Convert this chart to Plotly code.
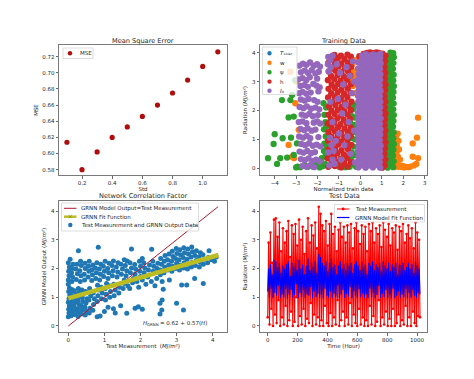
import plotly.graph_objects as go

FONT = "DejaVu Sans"

# ---------------- Top-left: Mean Square Error ----------------
std_vals = [0.1, 0.2, 0.3, 0.4, 0.5, 0.6, 0.7, 0.8, 0.9, 1.0, 1.1]
mse_vals = [0.614, 0.580, 0.602, 0.620, 0.633, 0.646, 0.660, 0.675, 0.691, 0.708, 0.726]

# ---------------- Top-right: Training Data (x, y) ----------------
tsolar_pts = [(0.30, 1.50), (0.50, 2.00), (0.40, 0.80), (0.20, 2.80), (0.60, 3.20), (0.10, 0.40)]

w_pts = [(-3.35, 0.81), (-3.19, 0.40), (-3.27, 3.34), (-3.04, 2.25), (-2.88, 1.33), (-2.99, 3.00), (-3.10, 0.35),
         (-0.45, 3.85), (-0.38, 3.60), (-0.30, 3.35), (-0.42, 3.10), (-0.35, 2.85), (-0.28, 2.60), (-0.20, 3.75), (-0.25, 3.15),
         (1.62, 0.05), (1.70, 0.15), (1.78, 0.05), (1.65, 0.30), (1.75, 0.40), (1.68, 0.55), (1.80, 0.65), (1.70, 0.80),
         (1.78, 0.95), (1.66, 1.10), (1.74, 1.20), (1.85, 0.30), (1.82, 0.10), (1.90, 0.05), (1.98, 0.08), (2.05, 0.03),
         (2.15, 0.05), (1.60, 0.70), (1.58, 1.00),
         (2.69, 1.75), (2.64, 1.06), (2.44, 0.86), (2.44, 0.40), (2.69, 0.35), (2.61, 0.15), (2.33, 0.06), (2.25, 0.04), (2.50, 0.10)]

psi_pts = [(-4.31, 0.35), (-3.89, 0.15), (-4.00, 1.18), (-4.05, 0.84), (-3.74, 0.35), (-3.66, 2.36), (-3.63, 1.04),
           (-3.42, 0.37), (-3.35, 1.76), (-3.27, 2.36), (-3.24, 1.06), (-3.11, 1.79), (-3.19, 2.54), (-3.04, 3.05),
           (-3.11, 0.46), (-2.96, 0.86), (-2.93, 0.06),
           (-3.00, 0.03), (-2.80, 0.04), (-2.60, 0.10), (-2.45, 0.05), (-2.30, 0.12), (-2.20, 0.05), (-2.12, 0.20),
           (-2.05, 0.10), (-1.95, 0.25), (-1.90, 0.03), (-1.80, 0.35), (-1.75, 0.08), (-1.70, 0.60), (-1.65, 0.15),
           (-1.62, 0.45), (-1.68, 0.85), (-1.62, 1.10), (-1.70, 1.35), (-1.63, 1.60), (-1.68, 1.85), (-1.60, 2.10),
           (-1.72, 2.25), (-1.58, 0.75), (-1.60, 1.45),
           (-1.00, 0.05), (-0.85, 0.10), (-0.70, 0.04),
           (-0.50, 0.05), (-0.45, 0.30), (-0.40, 0.55), (-0.48, 0.80), (-0.42, 1.05), (-0.38, 1.30), (-0.46, 1.55),
           (-0.40, 1.80), (-0.35, 2.05), (-0.30, 0.15), (-0.28, 0.45), (-0.32, 0.75), (-0.25, 1.00), (-0.30, 1.25),
           (-0.27, 1.50), (-0.24, 1.75), (-0.30, 2.20), (-0.20, 0.05),
           (1.27, 0.02), (1.29, 0.22), (1.26, 0.42), (1.28, 0.62), (1.30, 0.82), (1.27, 1.02), (1.29, 1.22), (1.26, 1.42),
           (1.28, 1.62), (1.30, 1.82), (1.27, 2.02), (1.29, 2.22), (1.26, 2.42), (1.28, 2.62), (1.30, 2.82), (1.27, 3.02),
           (1.29, 3.22), (1.26, 3.42), (1.28, 3.62), (1.30, 3.85),
           (1.40, 0.10), (1.42, 0.30), (1.39, 0.50), (1.41, 0.70), (1.43, 0.90), (1.40, 1.10), (1.42, 1.30), (1.39, 1.50),
           (1.41, 1.70), (1.43, 1.90), (1.40, 2.10), (1.42, 2.30), (1.39, 2.50), (1.41, 2.70), (1.43, 2.90), (1.40, 3.10),
           (1.42, 3.30), (1.39, 3.50), (1.41, 3.70), (1.43, 3.90), (1.40, 4.00),
           (1.53, 0.04), (1.55, 0.24), (1.52, 0.44), (1.54, 0.64), (1.56, 0.84), (1.53, 1.04), (1.55, 1.24), (1.52, 1.44),
           (1.54, 1.64), (1.56, 1.84), (1.53, 2.04), (1.55, 2.24), (1.52, 2.44), (1.54, 2.64), (1.56, 2.84), (1.53, 3.04),
           (1.55, 3.24), (1.52, 3.44), (1.54, 3.64), (1.56, 3.84), (1.53, 3.98)]

h_pts = [(-1.50, 0.05), (-1.53, 0.35), (-1.48, 0.65), (-1.51, 0.95), (-1.49, 1.25), (-1.52, 1.55), (-1.50, 1.85),
         (-1.47, 2.15), (-1.51, 2.45), (-1.49, 2.75), (-1.52, 3.05), (-1.48, 3.35), (-1.50, 3.65),
         (-1.35, 0.20), (-1.37, 0.50), (-1.33, 0.80), (-1.36, 1.10), (-1.34, 1.40), (-1.38, 1.70), (-1.35, 2.00),
         (-1.32, 2.30), (-1.36, 2.60), (-1.34, 2.90), (-1.37, 3.20), (-1.33, 3.50), (-1.35, 3.80),
         (-1.20, 0.08), (-1.22, 0.38), (-1.18, 0.68), (-1.21, 0.98), (-1.19, 1.28), (-1.23, 1.58), (-1.20, 1.88),
         (-1.17, 2.18), (-1.21, 2.48), (-1.19, 2.78), (-1.22, 3.08), (-1.18, 3.38), (-1.20, 3.68), (-1.21, 3.92),
         (-1.05, 0.22), (-1.07, 0.52), (-1.03, 0.82), (-1.06, 1.12), (-1.04, 1.42), (-1.08, 1.72), (-1.05, 2.02),
         (-1.02, 2.32), (-1.06, 2.62), (-1.04, 2.92), (-1.07, 3.22), (-1.03, 3.52), (-1.05, 3.82),
         (-0.90, 0.03), (-0.92, 0.33), (-0.88, 0.63), (-0.91, 0.93), (-0.89, 1.23), (-0.93, 1.53), (-0.90, 1.83),
         (-0.87, 2.13), (-0.91, 2.43), (-0.89, 2.73), (-0.92, 3.03), (-0.88, 3.33), (-0.90, 3.63), (-0.91, 3.90),
         (-0.75, 0.18), (-0.77, 0.48), (-0.73, 0.78), (-0.76, 1.08), (-0.74, 1.38), (-0.78, 1.68), (-0.75, 1.98),
         (-0.72, 2.28), (-0.76, 2.58), (-0.74, 2.88), (-0.77, 3.18), (-0.73, 3.48), (-0.75, 3.78),
         (-0.60, 0.06), (-0.62, 0.36), (-0.58, 0.66), (-0.61, 0.96), (-0.59, 1.26), (-0.63, 1.56), (-0.60, 1.86),
         (-0.57, 2.16), (-0.61, 2.46), (-0.59, 2.76), (-0.62, 3.06), (-0.58, 3.36), (-0.60, 3.66), (-0.61, 3.93),
         (-0.45, 0.21), (-0.47, 0.51), (-0.43, 0.81), (-0.46, 1.11), (-0.44, 1.41), (-0.48, 1.71), (-0.45, 2.01),
         (-0.42, 2.31), (-0.46, 2.61), (-0.44, 2.91), (-0.47, 3.21), (-0.43, 3.51), (-0.45, 3.86),
         (1.02, 0.02), (1.04, 0.22), (1.01, 0.42), (1.03, 0.62), (1.05, 0.82), (1.02, 1.02), (1.04, 1.22), (1.01, 1.42),
         (1.03, 1.62), (1.05, 1.82), (1.02, 2.02), (1.04, 2.22), (1.01, 2.42), (1.03, 2.62), (1.05, 2.82), (1.02, 3.02),
         (1.04, 3.22), (1.01, 3.42), (1.03, 3.62), (1.05, 3.82), (1.03, 3.97),
         (1.14, 0.10), (1.16, 0.30), (1.13, 0.50), (1.15, 0.70), (1.17, 0.90), (1.14, 1.10), (1.16, 1.30), (1.13, 1.50),
         (1.15, 1.70), (1.17, 1.90), (1.14, 2.10), (1.16, 2.30), (1.13, 2.50), (1.15, 2.70), (1.17, 2.90), (1.14, 3.10),
         (1.16, 3.30), (1.13, 3.50), (1.15, 3.70), (1.17, 3.90),
         (-0.05, 3.88), (0.15, 3.96), (0.30, 3.99), (0.45, 4.01), (0.60, 3.98), (0.75, 4.01), (0.86, 3.99)]

i0_pts = [(-2.85, 3.55), (-2.68, 3.62), (-2.52, 3.58), (-2.35, 3.66), (-2.18, 3.55), (-2.02, 3.60), (-1.88, 3.52),
          (-2.78, 3.32), (-2.60, 3.38), (-2.44, 3.30), (-2.27, 3.40), (-2.10, 3.28), (-1.94, 3.34),
          (-2.88, 3.08), (-2.70, 3.12), (-2.53, 3.05), (-2.36, 3.15), (-2.02, 3.10),
          (-2.80, 2.85), (-2.62, 2.88), (-2.45, 2.82), (-2.20, 2.92), (-2.05, 2.86), (-1.90, 2.80),
          (-2.86, 2.60), (-2.70, 2.64), (-2.52, 2.58), (-2.32, 2.62), (-1.96, 2.66),
          (-2.78, 2.38), (-2.60, 2.34), (-2.42, 2.40), (-2.16, 2.36), (-2.00, 2.30),
          (-2.84, 2.12), (-2.66, 2.08), (-2.50, 2.14), (-2.30, 2.06), (-2.10, 2.10), (-1.92, 2.04),
          (-2.74, 1.86), (-2.56, 1.82), (-2.38, 1.88), (-2.22, 1.80), (-1.98, 1.84),
          (-2.88, 1.60), (-2.70, 1.62), (-2.52, 1.56), (-2.18, 1.58), (-2.02, 1.62), (-1.88, 1.55),
          (-2.80, 1.36), (-2.62, 1.32), (-2.46, 1.38), (-2.28, 1.30), (-2.10, 1.34),
          (-2.86, 1.10), (-2.68, 1.06), (-2.50, 1.12), (-2.34, 1.04), (-1.96, 1.08),
          (-2.76, 0.84), (-2.58, 0.80), (-2.40, 0.86), (-2.22, 0.78), (-2.04, 0.82), (-1.88, 0.76),
          (-2.84, 0.58), (-2.66, 0.54), (-2.48, 0.60), (-2.30, 0.52), (-2.12, 0.56),
          (-2.78, 0.32), (-2.60, 0.28), (-2.42, 0.34), (-2.24, 0.26), (-2.06, 0.30), (-1.90, 0.24),
          (-2.70, 0.08), (-2.52, 0.05), (-2.35, 0.10), (-2.16, 0.04),
          (-1.50, 3.85), (-1.40, 3.75), (-1.52, 3.60), (-1.38, 3.50), (-1.48, 3.35), (-1.30, 3.90), (-1.45, 0.10),
          (-1.30, 0.30), (-1.50, 0.55), (-1.35, 0.80), (-1.20, 0.15), (-1.42, 1.05), (-1.25, 0.60), (-1.15, 0.95),
          (-1.40, 2.30), (-1.30, 1.60),
          (-1.10, 3.60), (-0.95, 3.30), (-0.80, 2.90), (-0.65, 3.50), (-0.50, 3.20), (-0.35, 3.70), (-1.05, 2.40),
          (-0.85, 1.90), (-0.70, 2.20), (-0.55, 1.60), (-0.40, 2.60), (-1.00, 1.20), (-0.75, 0.80), (-0.60, 1.10),
          (-0.45, 0.50), (-0.90, 0.30), (-0.30, 1.30), (-0.25, 0.20), (-0.30, 3.00),
          (-0.10, 0.03), (-0.12, 0.22), (-0.09, 0.41), (-0.11, 0.60), (-0.08, 0.79), (-0.12, 0.98), (-0.10, 1.17),
          (-0.09, 1.36), (-0.11, 1.55), (-0.10, 1.74), (-0.12, 1.93), (-0.08, 2.12), (-0.10, 2.31), (-0.11, 2.50),
          (-0.09, 2.69), (-0.12, 2.88), (-0.10, 3.07), (-0.08, 3.26), (-0.11, 3.45), (-0.10, 3.66),
          (0.07, 0.10), (0.05, 0.30), (0.08, 0.50), (0.06, 0.68), (0.09, 0.88), (0.05, 1.07), (0.07, 1.26),
          (0.08, 1.45), (0.06, 1.64), (0.09, 1.83), (0.05, 2.02), (0.07, 2.21), (0.08, 2.40), (0.06, 2.60),
          (0.09, 2.78), (0.05, 2.97), (0.07, 3.16), (0.08, 3.35), (0.06, 3.55), (0.07, 3.75), (0.08, 3.90),
          (0.24, 0.02), (0.22, 0.20), (0.25, 0.40), (0.23, 0.59), (0.26, 0.78), (0.22, 0.97), (0.24, 1.16),
          (0.25, 1.35), (0.23, 1.54), (0.26, 1.73), (0.22, 1.92), (0.24, 2.11), (0.25, 2.30), (0.23, 2.49),
          (0.26, 2.68), (0.22, 2.87), (0.24, 3.06), (0.25, 3.25), (0.23, 3.44), (0.26, 3.63), (0.24, 3.82), (0.25, 3.95),
          (0.41, 0.10), (0.39, 0.29), (0.42, 0.48), (0.40, 0.67), (0.43, 0.86), (0.39, 1.05), (0.41, 1.24),
          (0.42, 1.43), (0.40, 1.62), (0.43, 1.81), (0.39, 2.00), (0.41, 2.19), (0.42, 2.38), (0.40, 2.57),
          (0.43, 2.76), (0.39, 2.95), (0.41, 3.14), (0.42, 3.33), (0.40, 3.52), (0.43, 3.71), (0.41, 3.90),
          (0.58, 0.03), (0.56, 0.21), (0.59, 0.41), (0.57, 0.60), (0.60, 0.79), (0.56, 0.98), (0.58, 1.17),
          (0.59, 1.36), (0.57, 1.55), (0.60, 1.74), (0.56, 1.93), (0.58, 2.12), (0.59, 2.31), (0.57, 2.50),
          (0.60, 2.69), (0.56, 2.88), (0.58, 3.07), (0.59, 3.26), (0.57, 3.45), (0.60, 3.64), (0.58, 3.83), (0.59, 3.94),
          (0.75, 0.11), (0.73, 0.30), (0.76, 0.49), (0.74, 0.68), (0.77, 0.87), (0.73, 1.06), (0.75, 1.25),
          (0.76, 1.44), (0.74, 1.63), (0.77, 1.82), (0.73, 2.01), (0.75, 2.20), (0.76, 2.39), (0.74, 2.58),
          (0.77, 2.77), (0.73, 2.96), (0.75, 3.15), (0.76, 3.34), (0.74, 3.53), (0.77, 3.72), (0.75, 3.91),
          (0.92, 0.02), (0.90, 0.21), (0.93, 0.40), (0.91, 0.59), (0.94, 0.78), (0.90, 0.97), (0.92, 1.16),
          (0.93, 1.35), (0.91, 1.54), (0.94, 1.73), (0.90, 1.92), (0.92, 2.11), (0.93, 2.30), (0.91, 2.49),
          (0.94, 2.68), (0.90, 2.87), (0.92, 3.06), (0.93, 3.25), (0.91, 3.44), (0.94, 3.63), (0.92, 3.82), (0.93, 3.96)]

# ---------------- Bottom-left: Network Correlation Factor ----------------
corr_pts = [(0.00, 0.32), (0.02, 0.45), (0.01, 0.58), (0.03, 0.70), (0.00, 0.83), (0.02, 0.95), (0.04, 1.08),
            (0.01, 1.20), (0.03, 1.32), (0.00, 1.45), (0.08, 0.36), (0.10, 0.50), (0.07, 0.62), (0.11, 0.77),
            (0.09, 0.90), (0.12, 1.02), (0.08, 1.15), (0.10, 1.27), (0.17, 0.40), (0.19, 0.55), (0.16, 0.68),
            (0.20, 0.82), (0.18, 0.96), (0.21, 1.10), (0.17, 1.23), (0.27, 0.33), (0.28, 0.47), (0.26, 0.60),
            (0.30, 0.74), (0.27, 0.88), (0.29, 1.00), (0.31, 1.18), (0.28, 1.30), (0.37, 0.42), (0.38, 0.56),
            (0.36, 0.70), (0.40, 0.85), (0.39, 0.98), (0.41, 1.12), (0.38, 1.25), (0.47, 0.38), (0.50, 0.52),
            (0.46, 0.66), (0.49, 0.80), (0.52, 0.95), (0.48, 1.20), (0.58, 0.45), (0.60, 0.62), (0.57, 0.90),
            (0.62, 1.05), (0.59, 1.30), (0.68, 0.55), (0.70, 0.75), (0.72, 0.95), (0.69, 1.15),
            (0.00, 1.60), (0.02, 1.75), (0.01, 1.90), (0.03, 2.05), (0.00, 2.20), (0.05, 2.32), (0.10, 1.55),
            (0.12, 1.70), (0.09, 1.85), (0.11, 2.00), (0.13, 2.15),
            (0.22, 1.62), (0.25, 1.82), (0.21, 1.98), (0.24, 2.15), (0.33, 1.55), (0.35, 1.75), (0.32, 1.92),
            (0.36, 2.10), (0.34, 2.25), (0.45, 1.60), (0.44, 1.80), (0.47, 2.00), (0.46, 2.18), (0.55, 1.70),
            (0.57, 1.90), (0.56, 2.08), (0.58, 2.25), (0.65, 1.58), (0.67, 1.78), (0.66, 1.96), (0.68, 2.12),
            (0.76, 1.65), (0.78, 1.85), (0.75, 2.02), (0.79, 2.20), (0.87, 1.60), (0.89, 1.80), (0.86, 1.98),
            (0.90, 2.15), (0.98, 1.72), (1.00, 1.90), (0.97, 2.08), (1.02, 2.25), (1.10, 1.65), (1.12, 1.85),
            (1.09, 2.00), (1.13, 2.18), (1.22, 1.75), (1.24, 1.92), (1.21, 2.10), (1.25, 2.26), (1.35, 1.70),
            (1.37, 1.88), (1.33, 2.05), (1.38, 2.20), (1.47, 1.80), (1.50, 1.98), (1.46, 2.15), (1.60, 1.75),
            (1.62, 1.92), (1.58, 2.10), (1.63, 2.26), (1.72, 1.85), (1.75, 2.02), (1.71, 2.20), (1.85, 1.80),
            (1.87, 1.97), (1.84, 2.14), (1.98, 1.90), (2.00, 2.08), (1.97, 2.25), (2.10, 1.85), (2.12, 2.02),
            (2.09, 2.20), (2.22, 1.95), (2.25, 2.12), (2.35, 1.90), (2.37, 2.08), (2.34, 2.25), (2.46, 2.00),
            (2.48, 2.18),
            (0.80, 0.85), (0.82, 1.05), (0.85, 1.25), (0.81, 1.42), (0.92, 0.95), (0.94, 1.15), (0.91, 1.35),
            (1.03, 0.90), (1.05, 1.10), (1.02, 1.30), (1.06, 1.48), (1.15, 1.00), (1.17, 1.20), (1.14, 1.40),
            (1.27, 1.05), (1.30, 1.25), (1.26, 1.45), (1.40, 1.15), (1.42, 1.35), (1.52, 1.30), (1.55, 1.48),
            (1.65, 1.40), (1.78, 1.50), (1.90, 1.55), (2.05, 1.60),
            (1.70, 1.30), (1.95, 1.35), (2.15, 1.45), (2.30, 1.55), (2.45, 1.65), (2.55, 1.78), (2.20, 1.70),
            (2.40, 1.40), (2.60, 1.55), (1.55, 1.60), (1.80, 1.65), (2.00, 1.72),
            (2.55, 1.95), (2.58, 2.15), (2.56, 2.35), (2.65, 1.85), (2.67, 2.05), (2.66, 2.25), (2.68, 2.45),
            (2.76, 1.95), (2.78, 2.12), (2.75, 2.30), (2.79, 2.50), (2.87, 1.90), (2.89, 2.08), (2.86, 2.25),
            (2.90, 2.42), (2.88, 2.60), (2.98, 2.00), (3.00, 2.18), (2.97, 2.35), (3.01, 2.52), (2.99, 2.70),
            (3.08, 1.95), (3.10, 2.12), (3.07, 2.30), (3.11, 2.48), (3.09, 2.65), (3.19, 2.02), (3.21, 2.20),
            (3.18, 2.38), (3.22, 2.55), (3.20, 2.72), (3.30, 1.98), (3.32, 2.15), (3.29, 2.32), (3.33, 2.50),
            (3.31, 2.68), (3.41, 2.05), (3.43, 2.22), (3.40, 2.40), (3.44, 2.58), (3.42, 2.75), (3.52, 2.10),
            (3.54, 2.28), (3.51, 2.45), (3.55, 2.62), (3.63, 2.05), (3.65, 2.22), (3.62, 2.40), (3.66, 2.55),
            (3.74, 2.15), (3.76, 2.32), (3.73, 2.48), (3.86, 2.20), (3.88, 2.38), (3.97, 2.30), (4.05, 2.25),
            (4.10, 2.40),
            (0.28, 2.62), (0.83, 2.74), (1.75, 2.68), (2.31, 2.67), (3.90, 2.62), (1.55, 2.30), (2.05, 2.35),
            (0.80, 0.32), (0.88, 0.35), (1.00, 0.50), (1.30, 0.45), (1.62, 0.44), (1.85, 0.62), (1.94, 0.67),
            (2.05, 0.58), (2.54, 0.42), (2.59, 0.56), (2.54, 0.79), (2.60, 0.90), (3.00, 0.79), (3.19, 0.56),
            (2.63, 1.28), (3.14, 1.43), (3.28, 1.43), (3.74, 1.48), (3.50, 1.65), (2.80, 1.60), (1.25, 0.60),
            (1.45, 0.70), (1.10, 0.65)]

diag_x = [0.0, 4.15]
diag_y = [0.0, 4.15]
fit_x = [0.0, 4.16]
fit_y = [0.96, 2.47]

# ---------------- Bottom-right: Test Data (6-hour samples) ----------------
hour_step = 6
test_meas = [0.3, 2.9, 0.05, 3.25, 0.6, 2.2, 0.0, 3.7, 0.4, 3.75,
             0.1, 3.1, 0.9, 3.6, 0.0, 2.6, 0.3, 3.4, 0.05, 2.9,
             0.7, 3.3, 0.0, 3.65, 0.2, 2.4, 0.5, 3.5, 0.0, 3.2,
             0.15, 3.55, 1.0, 2.8, 0.0, 3.7, 0.35, 3.0, 0.05, 3.45,
             0.6, 2.5, 0.0, 3.3, 0.25, 3.75, 0.1, 2.9, 0.8, 3.5,
             0.0, 3.15, 0.4, 3.6, 0.05, 2.7, 0.3, 4.15, 0.0, 3.9,
             0.2, 3.5, 0.0, 3.3, 0.7, 3.65, 0.1, 2.8, 0.0, 3.55,
             0.45, 3.9, 0.0, 3.2, 0.3, 3.45, 0.05, 2.6, 0.9, 3.35,
             0.0, 3.6, 0.2, 3.1, 0.5, 3.45, 0.0, 2.9, 0.3, 3.5,
             0.05, 3.25, 0.8, 3.55, 0.0, 2.7, 0.4, 3.4, 0.1, 3.6,
             0.0, 3.3, 0.6, 2.85, 0.05, 3.5, 0.3, 3.2, 0.0, 3.45,
             0.2, 2.6, 0.0, 3.55, 0.7, 3.3, 0.05, 3.6, 0.35, 2.9,
             0.0, 3.4, 0.15, 3.2, 0.9, 3.5, 0.0, 2.75, 0.3, 3.6,
             0.05, 3.35, 0.5, 3.1, 0.0, 3.55, 0.25, 2.8, 0.0, 3.4,
             0.6, 3.25, 0.0, 3.5, 0.1, 2.65, 0.4, 3.45, 0.0, 3.3,
             0.2, 3.55, 0.05, 2.9, 0.7, 3.2, 0.0, 3.5, 0.3, 3.05,
             0.0, 3.4, 0.5, 2.7, 0.1, 3.6, 0.0, 3.25, 0.35, 3.0, 0.3]
grnn_out = [1.2, 2.0, 1.0, 2.15, 1.3, 1.8, 0.98, 2.3, 1.15, 2.25,
            1.05, 2.05, 1.4, 2.2, 0.97, 1.85, 1.1, 2.1, 1.0, 2.0,
            1.3, 2.15, 0.96, 2.25, 1.1, 1.75, 1.25, 2.2, 0.98, 2.05,
            1.08, 2.2, 1.45, 1.95, 0.97, 2.3, 1.15, 2.0, 1.02, 2.15,
            1.25, 1.8, 0.98, 2.1, 1.1, 2.35, 1.05, 1.95, 1.35, 2.2,
            0.97, 2.05, 1.2, 2.25, 1.0, 1.85, 1.12, 2.5, 0.98, 2.4,
            1.1, 2.2, 0.96, 2.1, 1.3, 2.25, 1.05, 1.9, 0.98, 2.2,
            1.2, 2.35, 0.97, 2.05, 1.12, 2.15, 1.0, 1.8, 1.4, 2.1,
            0.98, 2.25, 1.1, 2.0, 1.25, 2.15, 0.97, 1.95, 1.12, 2.2,
            1.02, 2.1, 1.35, 2.2, 0.97, 1.85, 1.2, 2.15, 1.05, 2.25,
            0.98, 2.1, 1.28, 1.95, 1.0, 2.2, 1.12, 2.05, 0.97, 2.15,
            1.1, 1.8, 0.98, 2.2, 1.3, 2.1, 1.0, 2.25, 1.15, 1.95,
            0.97, 2.15, 1.08, 2.05, 1.4, 2.2, 0.98, 1.9, 1.12, 2.25,
            1.0, 2.1, 1.25, 2.0, 0.97, 2.2, 1.1, 1.9, 0.98, 2.15,
            1.3, 2.05, 0.97, 2.2, 1.05, 1.8, 1.2, 2.15, 0.98, 2.1,
            1.1, 2.2, 1.0, 1.95, 1.3, 2.05, 0.97, 2.2, 1.15, 2.0,
            0.98, 2.15, 1.25, 1.85, 1.05, 2.25, 0.97, 2.1, 1.15, 2.0, 1.1]
hours = [i * hour_step for i in range(len(test_meas))]

# ---------------- colours ----------------
C_MSE = "#b00d0d"
C_TS, C_W, C_PSI, C_H, C_I0 = "#1f77b4", "#ff7f0e", "#2ca02c", "#d62728", "#9467bd"
C_DIAG, C_FIT, C_SC = "#b5162b", "#bcbd22", "#1f77b4"
C_RED, C_BLUE = "#ff0000", "#0000ff"

W, H = 474, 379
def P(xp):
    return xp / W
def Q(yp):
    return 1 - yp / H

fig = go.Figure()

# top-left
fig.add_trace(go.Scatter(x=std_vals, y=mse_vals, mode="markers", name="MSE",
                         marker=dict(color=C_MSE, size=5.2), xaxis="x", yaxis="y", showlegend=False))

# top-right
for pts, col, nm in [(tsolar_pts, C_TS, "T_solar"), (w_pts, C_W, "w"), (psi_pts, C_PSI, "ψ"),
                     (h_pts, C_H, "h"), (i0_pts, C_I0, "I0")]:
    fig.add_trace(go.Scatter(x=[p[0] for p in pts], y=[p[1] for p in pts], mode="markers", name=nm,
                             marker=dict(color=col, size=6.3, line=dict(width=0)),
                             xaxis="x2", yaxis="y2", showlegend=False))

# bottom-left
fig.add_trace(go.Scatter(x=[p[0] for p in corr_pts], y=[p[1] for p in corr_pts], mode="markers",
                         name="Test Measurement and GRNN Output Data",
                         marker=dict(color=C_SC, size=5, line=dict(width=0)),
                         xaxis="x3", yaxis="y3", showlegend=False))
fig.add_trace(go.Scatter(x=diag_x, y=diag_y, mode="lines", name="GRNN Model Output=Test Measurement",
                         line=dict(color=C_DIAG, width=1), xaxis="x3", yaxis="y3", showlegend=False))
fig.add_trace(go.Scatter(x=fit_x, y=fit_y, mode="lines", name="GRNN Fit Function",
                         line=dict(color=C_FIT, width=4.5), xaxis="x3", yaxis="y3", showlegend=False))

# bottom-right
fig.add_trace(go.Scatter(x=hours, y=test_meas, mode="lines+markers", name="Test Measurement",
                         line=dict(color=C_RED, width=1.1), marker=dict(color=C_RED, size=2.6),
                         xaxis="x4", yaxis="y4", showlegend=False))
fig.add_trace(go.Scatter(x=hours, y=grnn_out, mode="lines", name="GRNN Model Fit Function",
                         line=dict(color=C_BLUE, width=1.1), xaxis="x4", yaxis="y4", showlegend=False))

TF = dict(family=FONT, size=5.5, color="#262626")
def ax(domain, rng, dtick, fmt, title, anchor, standoff=1):
    return dict(domain=domain, range=rng, dtick=dtick, tickformat=fmt, anchor=anchor,
                showline=True, mirror=True, linecolor="#7a7a7a", linewidth=1,
                ticks="outside", ticklen=2.5, tickwidth=0.8, tickcolor="#444",
                tickfont=TF, showgrid=False, zeroline=False,
                title=dict(text=title, font=TF, standoff=standoff))

XL = [P(59), P(227)]
XR = [P(260), P(427)]
YT = [Q(175), Q(45)]
YB = [Q(332), Q(201)]
unit = "(<i>MJ</i>/<i>m²</i>)"
rad = "Radiation " + unit

fig.update_layout(
    width=W, height=H, margin=dict(l=0, r=0, t=0, b=0),
    paper_bgcolor="white", plot_bgcolor="white",
    font=dict(family=FONT, size=5.5, color="#262626"),
    xaxis=ax(XL, [0.0475, 1.161], 0.2, ".1f", "Std", "y"),
    yaxis=ax(YT, [0.5734, 0.7345], 0.02, ".2f", "MSE", "x", 3),
    xaxis2=ax(XR, [-4.686, 3.107], 1, "d", "Normalized train data", "y2"),
    yaxis2=ax(YT, [-0.232, 4.266], 1, "d", rad, "x2", 3),
    xaxis3=ax(XL, [-0.258, 4.397], 1, "d", "Test Measurement  " + unit, "y3"),
    yaxis3=ax(YB, [-0.209, 4.348], 1, "d", "GRNN Model Output " + unit, "x3", 3),
    xaxis4=ax(XR, [-51.6, 1067], 200, "d", "Time (Hour)", "y4"),
    yaxis4=ax(YB, [-0.209, 4.348], 1, "d", rad, "x4", 3),
)

# titles
TT = dict(family=FONT, size=6.6, color="#262626")
ann = []
for txt, xc, yc in [("Mean Square Error", 143, 40.7), ("Training Data", 343.5, 40.7),
                    ("Network Correlation Factor", 143, 196), ("Test Data", 343.5, 196)]:
    ann.append(dict(text=txt, x=P(xc), y=Q(yc), xref="paper", yref="paper", showarrow=False,
                    xanchor="center", yanchor="middle", font=TT))

# fit equation: H_GRNN = 0.62 + 0.57(H)  (subscript as a smaller text piece)
ann.append(dict(text="<i>H</i>", x=P(140.5), y=Q(323), xref="paper", yref="paper", showarrow=False,
                xanchor="left", yanchor="middle", font=TF))
ann.append(dict(text="GRNN", x=P(144.6), y=Q(324.6), xref="paper", yref="paper", showarrow=False,
                xanchor="left", yanchor="middle", font=dict(family=FONT, size=3.9, color="#262626")))
ann.append(dict(text="= 0.62 + 0.57(<i>H</i>)", x=P(157.5), y=Q(323), xref="paper", yref="paper",
                showarrow=False, xanchor="left", yanchor="middle", font=TF))

# legends (drawn as frame + keys + text)
shapes = []
def frame(x0, y0, x1, y1):
    shapes.append(dict(type="rect", xref="paper", yref="paper", x0=P(x0), x1=P(x1), y0=Q(y1), y1=Q(y0),
                       line=dict(color="#d4d4d4", width=0.8), fillcolor="rgba(255,255,255,0.8)", layer="above"))
def dot(cx, cy, col, r=2.2):
    shapes.append(dict(type="circle", xref="paper", yref="paper", x0=P(cx - r), x1=P(cx + r),
                       y0=Q(cy + r), y1=Q(cy - r), fillcolor=col, line=dict(width=0), layer="above"))
def seg(x0, x1, y, col, w):
    shapes.append(dict(type="line", xref="paper", yref="paper", x0=P(x0), x1=P(x1), y0=Q(y), y1=Q(y),
                       line=dict(color=col, width=w), layer="above"))
def label(txt, x, y):
    ann.append(dict(text=txt, x=P(x), y=Q(y), xref="paper", yref="paper", showarrow=False,
                    xanchor="left", yanchor="middle", font=TF))

frame(63, 48, 93, 58.5)
dot(70, 53.3, C_MSE)
label("MSE", 77.5, 53.3)

frame(262.5, 47, 297, 94.5)
for (nm, col), yy in zip([("<i>T</i>ₛₒₗₐᵣ", C_TS), ("w", C_W), ("ψ", C_PSI), ("h", C_H),
                          ("<i>I</i>₀", C_I0)], [53.3, 62.7, 72.2, 81.6, 90.8]):
    dot(269.5, yy, col)
    label(nm, 277.5, yy)

frame(61.5, 203, 198.5, 231)
seg(64, 76.5, 208.3, C_DIAG, 1)
seg(64, 76.5, 216.7, C_FIT, 2.5)
shapes.append(dict(type="line", xref="paper", yref="paper", x0=P(68.8), x1=P(71.8), y0=Q(218.2), y1=Q(215.2),
                   line=dict(color="#8c8c10", width=0.8), layer="above"))
shapes.append(dict(type="line", xref="paper", yref="paper", x0=P(68.8), x1=P(71.8), y0=Q(215.2), y1=Q(218.2),
                   line=dict(color="#8c8c10", width=0.8), layer="above"))
dot(70.3, 225, C_SC)
label("GRNN Model Output=Test Measurement", 79, 208.3)
label("GRNN Fit Function", 79, 216.7)
label("Test Measurement and GRNN Output Data", 79, 225)

frame(334.5, 204.5, 424.5, 222)
seg(337, 349.5, 209, C_RED, 1)
dot(343.2, 209, C_RED, 1.4)
seg(337, 349.5, 217.5, C_BLUE, 1.2)
label("Test Measurement", 352.5, 209)
label("GRNN Model Fit Function", 352.5, 217.5)

fig.update_layout(annotations=ann, shapes=shapes)
fig.write_html("out.html", config={"displayModeBar": False, "staticPlot": True},
               post_script="document.body.style.margin='0px';document.documentElement.style.overflow='hidden';")
